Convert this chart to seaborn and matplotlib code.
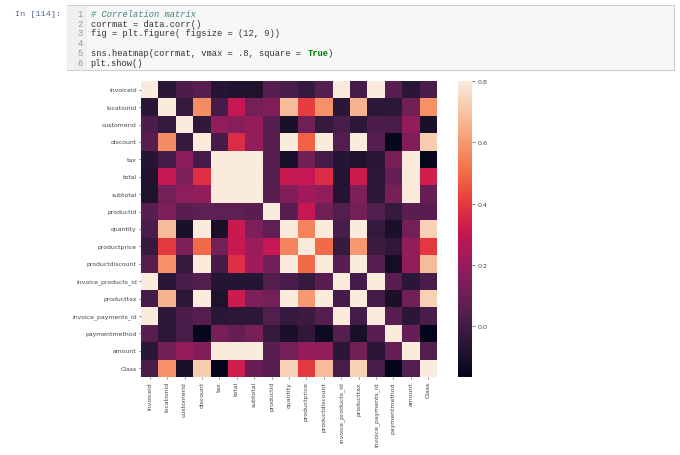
"""Correlation heatmap inside a notebook cell screenshot"""
import matplotlib.pyplot as plt
from matplotlib.patches import Rectangle
import pandas as pd
import seaborn as sns

labels = ["invoiceid", "locationid", "customerid", "discount", "tax", "total", "subtotal",
          "productid", "quantity", "productprice", "productdiscount", "invoice_products_id",
          "producttax", "invoice_payments_id", "paymentmethod", "amount", "Class"]

invoiceid = [1, -.06, .03, .06, -.07, -.08, -.09, .06, .02, -.03, .05, 1, .01, 1, .06, -.06, .02]
locationid = [-.06, 1, -.03, .57, .01, .3, .12, .15, .68, .41, .58, -.06, .66, -.05, -.05, .11, .58]
customerid = [.03, -.03, 1, -.04, .19, .16, .19, .05, -.1, .11, -.03, .02, -.05, .03, .02, .19, -.1]
discount = [.06, .57, -.03, 1, .01, .37, .19, .06, .85, .48, .9, .04, .85, .05, -.15, .15, .72]
tax = [-.07, .01, .17, .01, 1, 1, 1, .06, -.1, .11, .01, -.07, -.09, -.06, .13, .85, -.15]
total = [-.08, .3, .14, .38, 1, 1, 1, .05, .31, .3, .37, -.07, .32, -.05, .09, .85, .33]
subtotal = [-.09, .12, .18, .19, 1, 1, 1, .06, .15, .22, .19, -.07, .14, -.05, .13, .85, .09]
productid = [.06, .14, .06, .07, .07, .07, .06, 1, .06, .3, .11, .04, .12, .04, -.03, .06, .06]
quantity = [.02, .68, -.1, .85, -.1, .31, .14, .07, 1, .55, .85, .02, .85, -.03, -.1, .12, .73]
productprice = [-.03, .4, .14, .5, .12, .31, .21, .3, .55, 1, .5, -.03, .6, -.01, -.04, .19, .4]
productdiscount = [.05, .58, -.03, .9, .01, .38, .22, .11, .85, .5, 1, .06, .85, .05, -.12, .19, .68]
invoice_products_id = [1, -.06, .02, .04, -.07, -.07, -.07, .04, .02, -.03, .06, 1, .01, 1, .06, -.06, .02]
producttax = [.01, .66, -.05, .85, -.09, .32, .14, .12, .85, .6, .85, .01, 1, .01, -.1, .11, .73]
invoice_payments_id = [1, -.05, .03, .05, -.06, -.05, -.05, .04, -.03, -.01, .05, 1, .01, 1, .06, -.06, .02]
paymentmethod = [.06, -.05, .02, -.15, .13, .09, .13, -.03, -.1, -.04, -.13, .06, -.1, .06, 1, .09, -.16]
amount = [-.06, .11, .19, .15, .85, .85, .85, .06, .12, .19, .19, -.06, .11, -.06, .09, 1, .04]
class_row = [.02, .58, -.1, .72, -.16, .33, .09, .06, .73, .4, .68, .02, .73, .02, -.16, .04, 1]

code_lines = ["# Correlation matrix",
              "corrmat = data.corr()",
              "fig = plt.figure( figsize = (12, 9))",
              "",
              "sns.heatmap(corrmat, vmax = .8, square = ",
              "plt.show()"]

W, H = 680, 456
CHAR_W = 5.29


def box(x0, y0, x1, y1):
    # pixel box (top-left origin) to figure fractions
    return [x0 / W, 1 - y1 / H, (x1 - x0) / W, (y1 - y0) / H]


def draw_cell(fig):
    fig.patches.append(Rectangle((66.5 / W, 1 - 71 / H), 607.5 / W, 65 / H, transform=fig.transFigure,
                                 facecolor="#f7f7f7", edgecolor="#cfcfcf", lw=0.8))
    fig.patches.append(Rectangle((67 / W, 1 - 70.5 / H), 20 / W, 64 / H, transform=fig.transFigure,
                                 facecolor="#f0f0f0", edgecolor="none"))
    fig.text(61 / W, 1 - 14.5 / H, "In [114]:", family="Liberation Mono", fontsize=6.1,
             color="#5a6396", ha="right", va="center")
    for i, line in enumerate(code_lines):
        y = 1 - (14.5 + i * 9.7) / H
        fig.text(83 / W, y, str(i + 1), family="Liberation Mono", fontsize=6.3,
                 color="#999999", ha="right", va="center")
        if i == 0:
            fig.text(90.7 / W, y, line, family="Liberation Mono", style="italic", fontsize=6.35,
                     color="#408080", va="center")
        else:
            fig.text(90.7 / W, y, line, family="Liberation Mono", fontsize=6.35,
                     color="#333333", va="center")
        if i == 4:
            # keyword and closing bracket are separate pieces
            x = 90.7 + CHAR_W * len(line)
            fig.text(x / W, y, "True", family="Liberation Mono", weight="bold", fontsize=6.35,
                     color="#008000", va="center")
            fig.text((x + CHAR_W * 3.8) / W, y, ")", family="Liberation Mono", fontsize=6.35,
                     color="#333333", va="center")


corrmat = pd.DataFrame([invoiceid, locationid, customerid, discount, tax, total, subtotal,
                        productid, quantity, productprice, productdiscount, invoice_products_id,
                        producttax, invoice_payments_id, paymentmethod, amount, class_row],
                       index=labels, columns=labels)

fig = plt.figure(figsize=(6.8, 4.56), dpi=100)
draw_cell(fig)

ax = fig.add_axes(box(141, 82, 437, 378))
cax = fig.add_axes(box(458, 82, 472, 378))
sns.heatmap(corrmat, vmin=-.166, vmax=.8, square=True, ax=ax, cbar_ax=cax)

ax.tick_params(axis="both", labelsize=4.4, length=1.5, width=0.5, color="#555555", labelcolor="#444444", pad=1.5)
plt.setp(ax.get_xticklabels(), rotation=90)
plt.setp(ax.get_yticklabels(), rotation=0)
cax.tick_params(labelsize=4.6, length=2, width=0.5, color="#555555", labelcolor="#444444", pad=2)

fig.savefig("out.png", dpi=100)
